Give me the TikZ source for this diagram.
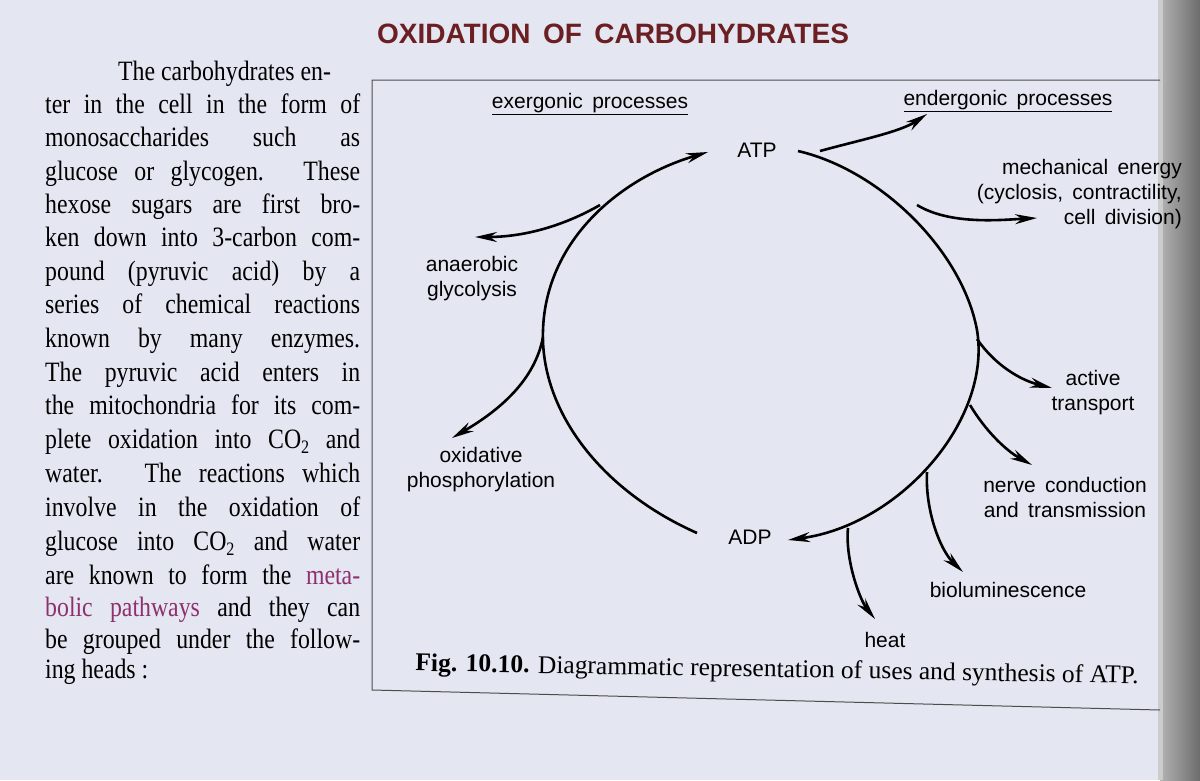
\documentclass[tikz,border=0pt]{standalone}
\usepackage{fontspec}
\setmainfont{Liberation Serif}
\newfontfamily\parfont[FakeStretch=0.85]{Liberation Serif}
\setsansfont{Liberation Sans}
\usetikzlibrary{arrows.meta}
\definecolor{bg}{HTML}{E4E7F1}
\definecolor{titlec}{HTML}{6B1F22}
\definecolor{purp}{HTML}{8E2F6E}
\tikzset{
  lab/.style={font=\sffamily\fontsize{21}{25}\selectfont, inner sep=0pt, align=center},
  par/.style={font=\parfont\fontsize{28}{30}\selectfont, anchor=base west, inner sep=0pt},
  arr/.style={line width=2.6pt, -{Stealth[length=22pt,width=10pt]}},
  arc/.style={line width=2.6pt}
}
\newcommand{\jl}[1]{\hbox to 315pt{#1}}
\begin{document}
\begin{tikzpicture}[x=1pt,y=-1pt]
\fill[bg] (0,0) rectangle (1200,780);
\shade[left color=gray!60, right color=gray!85!black] (1160,0) rectangle (1200,780);
\fill[gray!40!white] (1158,0) rectangle (1163,780);
\node[font=\sffamily\bfseries\fontsize{28}{30}\selectfont, text=titlec] (title) at (613,34) {OXIDATION\, OF\, CARBOHYDRATES};
% paragraph
\node[par] (l1) at (118,80) {The carbohydrates en-};
\node[par] (l2) at (45,113) {\jl{ter in the cell in the form of}};
\node[par] (l3) at (45,146) {\jl{monosaccharides such as}};
\node[par] (l4) at (45,180) {\jl{glucose or glycogen. These}};
\node[par] (l5) at (45,213) {\jl{hexose sugars are first bro-}};
\node[par] (l6) at (45,246) {\jl{ken down into 3-carbon com-}};
\node[par] (l7) at (45,280) {\jl{pound (pyruvic acid) by a}};
\node[par] (l8) at (45,313) {\jl{series of chemical reactions}};
\node[par] (l9) at (45,347) {\jl{known by many enzymes.}};
\node[par] (l10) at (45,381) {\jl{The pyruvic acid enters in}};
\node[par] (l11) at (45,414) {\jl{the mitochondria for its com-}};
\node[par] (l12) at (45,448) {\jl{plete oxidation into CO\raisebox{-5pt}{\fontsize{19}{19}\selectfont 2} and}};
\node[par] (l13) at (45,482) {\jl{water. The reactions which}};
\node[par] (l14) at (45,516) {\jl{involve in the oxidation of}};
\node[par] (l15) at (45,550) {\jl{glucose into CO\raisebox{-5pt}{\fontsize{19}{19}\selectfont 2} and water}};
\node[par] (l16) at (45,584) {\jl{are known to form the \textcolor{purp}{meta-}}};
\node[par] (l17) at (45,616) {\jl{\textcolor{purp}{bolic pathways} and they can}};
\node[par] (l18) at (45,648) {\jl{be grouped under the follow-}};
\node[par] (l19) at (45,678) {ing heads :};
% frame
\draw[line width=1pt, black!70] (1160,80) -- (372,80) -- (372,690) -- (1160,710);
% labels
\node[lab] (exo) at (590,104) {\underline{exergonic\, processes}};
\node[lab] (endo) at (1008,101) {\underline{endergonic\, processes}};
\node[lab] (atp) at (757,150) {ATP};
\node[lab, align=right, anchor=east] (mech) at (1182,194) {mechanical\, energy\\(cyclosis,\, contractility,\\cell\, division)};
\node[lab] (anae) at (472,279) {anaerobic\\glycolysis};
\node[lab] (oxi) at (481,470) {oxidative\\phosphorylation};
\node[lab] (act) at (1093,393) {active\\transport};
\node[lab] (nerve) at (1065,497) {nerve\, conduction\\and\, transmission};
\node[lab] (adp) at (750,537) {ADP};
\node[lab] (bio) at (1008,590) {bioluminescence};
\node[lab] (heat) at (885,640) {heat};
\node[font=\fontsize{25.5}{27}\selectfont, inner sep=0pt, rotate=-1] (cap) at (777,671) {\textbf{Fig. 10.10.} Diagrammatic representation of uses and synthesis of ATP.};
% left arc (synthesis)
\coordinate (ls) at (697,533);
\coordinate (lm) at (543,330);
\coordinate (le) at (708,152);
\draw[arc] (ls) .. controls (600,490) and (540,410) .. (lm);
\draw[arr] (lm) .. controls (546,240) and (620,178) .. (le);
\coordinate (ba) at (600,205); \coordinate (ta) at (475,237);
\draw[arr] (ba) .. controls (560,228) and (520,237) .. (ta);
\coordinate (bo) at (543,337); \coordinate (to) at (452,438);
\draw[arr] (bo) .. controls (535,380) and (500,410) .. (to);
% right arc (uses)
\coordinate (rs) at (798,151);
\coordinate (rm) at (977,330);
\coordinate (re) at (788,540);
\draw[arc] (rs) .. controls (880,170) and (962,250) .. (rm);
\draw[arr] (rm) .. controls (992,420) and (900,525) .. (re);
\coordinate (bu) at (820,151); \coordinate (tu) at (927,114);
\draw[arr] (bu) .. controls (860,140) and (900,132) .. (tu);
\coordinate (bm) at (917,205); \coordinate (tm) at (1037,218);
\draw[arr] (bm) .. controls (950,225) and (1000,220) .. (tm);
\coordinate (bt) at (977,339); \coordinate (tt) at (1052,388);
\draw[arr] (bt) .. controls (995,365) and (1020,380) .. (tt);
\coordinate (bn) at (970,405); \coordinate (tn) at (1032,465);
\draw[arr] (bn) .. controls (985,430) and (1005,450) .. (tn);
\coordinate (bb) at (927,472); \coordinate (tb) at (963,572);
\draw[arr] (bb) .. controls (925,510) and (940,550) .. (tb);
\coordinate (bh) at (848,528); \coordinate (th) at (875,619);
\draw[arr] (bh) .. controls (845,560) and (860,600) .. (th);
\end{tikzpicture}
\end{document}
